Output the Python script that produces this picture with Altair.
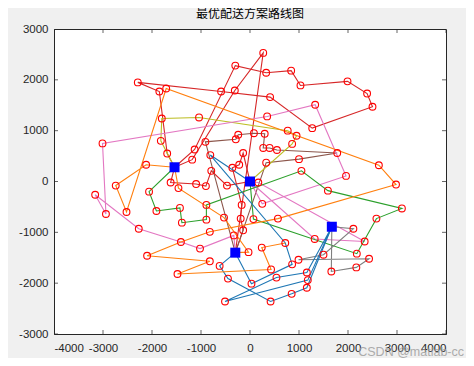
import altair as alt
import pandas as pd

# depots (blue squares)
depot_x = [-1540, 0, 1670, -300]
depot_y = [280, 0, -890, -1400]

# routes
R1_x = [-1540, -1130, -300, 330, 840, 1030, 1990, 2390, 2500, 1270, 410, -590, -2290, -1850, -1690, -1540]
R1_y = [280, 630, 2280, 2140, 2180, 1890, 1970, 1730, 1470, 1050, 1660, 1770, 1950, 1770, 550, 280]
R2_x = [-1540, -1180, -310, 270, -300]
R2_y = [280, 430, 1790, 2530, -1400]
R3_x = [-1540, -1620, -1100, -900, -790, -470, 0]
R3_y = [280, -20, -50, -90, 210, -80, 0]
R4_x = [-300, -140, -190, -170, -360, -220, -140, 0]
R4_y = [-1400, -960, -730, -460, 270, 330, 560, 0]
BR_x = [-300, -910, -290, -240, 80, 300, 270, 400, 550, 1780, 1000, 330, -300]
BR_y = [-1400, 780, 830, 920, 950, 940, 660, 660, 620, 560, 440, 370, -1400]
OL_x = [-1540, -1820, -1800, -1040, 770, 950, 860, 0]
OL_y = [280, 800, 1240, 1260, 1000, 900, 740, 0]
PK1_x = [-300, -330, -1020, -1410, -2270, -3160, -2940, -3010, 350, 1330, 1960, 250, 0]
PK1_y = [-1400, -1060, -1320, -1190, -930, -260, -640, 750, 1280, 1510, 110, -440, 0]
PK2_x = [0, 170, 2340, 1320, 0]
PK2_y = [0, -20, -1180, -1130, 0]
GR_x = [-1540, -2060, -1910, -1430, -1390, -890, -890, 1050, 1590, 3100, 2580, 2180, 70, 0]
GR_y = [280, -200, -580, -520, -810, -750, -460, 210, -180, -530, -730, -1420, -740, 0]
GY_x = [1670, 2110, 1500, 990, 2430, 2170, 1660, 1670]
GY_y = [-890, -930, -1440, -1540, -1520, -1690, -1770, -890]
BL1_x = [-300, -620, -450, 420, 850, 1160, 1670]
BL1_y = [-1400, -1660, -1910, -2360, -2210, -2090, -890]
BL2_x = [1670, 1180, -510, 540, 1160, 1670]
BL2_y = [-890, -1940, -2360, -1890, -1790, -890]
BL3_x = [0, -810, 720, 860, 30, -300]
BL3_y = [0, 520, -1210, -1630, -2010, -1400]
OR1_x = [-1540, -2120, -2740, -2520, -1710, 2630, 2980, 570, -820, -1410, -2100, -820, -1480, 430, 240, 720]
OR1_y = [280, 330, -80, -600, 1830, 320, -60, -730, -990, -1190, -1460, -1570, -1820, -1730, -1300, -1210]
OR2_x = [-1540, -1460, -530, -30, -300]
OR2_y = [280, -130, -710, -1390, -1400]

route_list = [
    ("r1", R1_x, R1_y, "#d62728"),
    ("r2", R2_x, R2_y, "#d62728"),
    ("r3", R3_x, R3_y, "#d62728"),
    ("r4", R4_x, R4_y, "#d62728"),
    ("br", BR_x, BR_y, "#8c564b"),
    ("ol", OL_x, OL_y, "#bcbd22"),
    ("pk1", PK1_x, PK1_y, "#e377c2"),
    ("pk2", PK2_x, PK2_y, "#e377c2"),
    ("gr", GR_x, GR_y, "#2ca02c"),
    ("gy", GY_x, GY_y, "#7f7f7f"),
    ("bl1", BL1_x, BL1_y, "#1f77b4"),
    ("bl2", BL2_x, BL2_y, "#1f77b4"),
    ("bl3", BL3_x, BL3_y, "#1f77b4"),
    ("or1", OR1_x, OR1_y, "#ff7f0e"),
    ("or2", OR2_x, OR2_y, "#ff7f0e"),
]

x_ticks = [-4000, -3000, -2000, -1000, 0, 1000, 2000, 3000, 4000]
y_ticks = [-3000, -2000, -1000, 0, 1000, 2000, 3000]
title_text = ["最优配送方案路线图"]
watermark_text = ["CSDN @matlab-cc"]

rows = []
for name, xs_, ys_, _ in route_list:
    for i, (a, b) in enumerate(zip(xs_, ys_)):
        rows.append({"route": name, "seq": i, "x": a, "y": b})
lines = pd.DataFrame(rows)

depots = pd.DataFrame({"x": depot_x, "y": depot_y})
dset = set(zip(depot_x, depot_y))
cust = lines[[not ((a, b) in dset) for a, b in zip(lines.x, lines.y)]][["x", "y"]].drop_duplicates()

xs = alt.Scale(domain=[-4000, 4000], nice=False, zero=False)
ys = alt.Scale(domain=[-3000, 3000], nice=False, zero=False)
lab = dict(labelFont="Liberation Sans", labelFontSize=11.5, labelColor="#262626",
           domainColor="#262626", ticks=False, grid=False, title=None,
           labelExpr="'' + datum.value")
xax = alt.Axis(values=x_ticks, labelPadding=8, **lab)
yax = alt.Axis(values=y_ticks, labelPadding=6, **lab)

line_layer = alt.Chart(lines).mark_line(strokeWidth=1.1).encode(
    x=alt.X("x:Q", scale=xs, axis=xax),
    y=alt.Y("y:Q", scale=ys, axis=yax),
    detail="route:N",
    order="seq:Q",
    color=alt.Color("route:N", legend=None,
                    scale=alt.Scale(domain=[r[0] for r in route_list],
                                    range=[r[3] for r in route_list])),
)

cust_layer = alt.Chart(cust).mark_point(shape="circle", filled=False, color="#ff0000",
                                        size=46, strokeWidth=1.1, opacity=1).encode(
    x=alt.X("x:Q", scale=xs), y=alt.Y("y:Q", scale=ys))

depot_layer = alt.Chart(depots).mark_square(color="#0000ff", size=100, opacity=1).encode(
    x=alt.X("x:Q", scale=xs), y=alt.Y("y:Q", scale=ys))

xt = pd.DataFrame({"v": x_ticks})
yt = pd.DataFrame({"v": y_ticks})
tick_b = alt.Chart(xt).mark_tick(orient="vertical", size=8, thickness=1, color="#262626", clip=True).encode(
    x=alt.X("v:Q", scale=xs), y=alt.datum(-3000, scale=ys))
tick_t = alt.Chart(xt).mark_tick(orient="vertical", size=8, thickness=1, color="#262626", clip=True).encode(
    x=alt.X("v:Q", scale=xs), y=alt.datum(3000, scale=ys))
tick_l = alt.Chart(yt).mark_tick(orient="horizontal", size=8, thickness=1, color="#262626", clip=True).encode(
    y=alt.Y("v:Q", scale=ys), x=alt.datum(-4000, scale=xs))
tick_r = alt.Chart(yt).mark_tick(orient="horizontal", size=8, thickness=1, color="#262626", clip=True).encode(
    y=alt.Y("v:Q", scale=ys), x=alt.datum(4000, scale=xs))

title_layer = alt.Chart(pd.DataFrame({"t": title_text})).mark_text(
    align="center", baseline="middle", fontSize=12, font="Noto Sans CJK SC",
    color="#000000").encode(text="t:N", x=alt.value(196), y=alt.value(-15))

wm = alt.Chart(pd.DataFrame({"t": watermark_text})).mark_text(
    align="right", baseline="middle", fontSize=12.5, font="Liberation Sans",
    color="#a0a0a0", opacity=0.85).encode(
    text="t:N", x=alt.value(410), y=alt.value(323))

chart = alt.layer(line_layer, cust_layer, depot_layer, tick_b, tick_t, tick_l, tick_r,
                  title_layer, wm).properties(
    width=392, height=305,
    autosize=alt.AutoSizeParams(type="none"),
    padding={"left": 46, "top": 21, "right": 20, "bottom": 24},
).configure(background="#f0f0f0").configure_view(fill="white", stroke="#262626", strokeWidth=1)

chart.save("out.html", embed_options={"renderer": "svg", "actions": False})
